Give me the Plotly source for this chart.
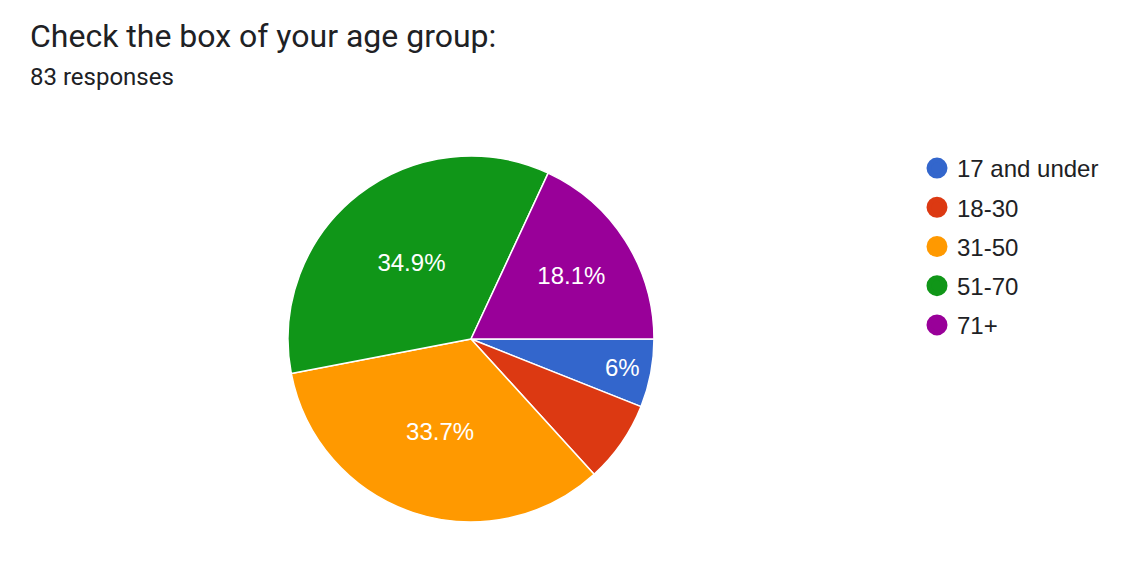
import plotly.graph_objects as go

# survey answers (83 responses)
labels = ["17 and under", "18-30", "31-50", "51-70", "71+"]
counts = [5, 6, 28, 29, 15]
colors = ["#3366cc", "#dc3912", "#ff9900", "#109618", "#990099"]
show_label = [True, False, True, True, True]

total = sum(counts)
pct_text = []
for c, s in zip(counts, show_label):
    if s:
        pct_text.append("{:g}%".format(round(c / total * 100, 1)))
    else:
        pct_text.append("")

fig = go.Figure()
fig.add_trace(go.Pie(
    labels=labels, values=counts, text=pct_text,
    textinfo="text", textposition="inside", insidetextorientation="horizontal",
    sort=False, direction="clockwise", rotation=90,
    marker=dict(colors=colors, line=dict(color="white", width=1.5)),
    textfont=dict(family="Liberation Sans", size=24, color="white"),
    domain=dict(x=[0.2489, 0.5742], y=[0.1153, 0.7453]),
    showlegend=False, hoverinfo="label+percent",
))

# legend entries with round markers (outline in same colour makes the dot bigger)
for lab, col in zip(labels, colors):
    fig.add_trace(go.Scatter(
        x=[None], y=[None], mode="markers", name=lab, legendgroup=lab,
        marker=dict(color=col, size=16, symbol="circle", line=dict(color=col, width=6)),
    ))

fig.update_layout(
    width=1125, height=581,
    margin=dict(l=0, r=0, t=0, b=0),
    paper_bgcolor="white", plot_bgcolor="white",
    font=dict(family="Roboto", color="#202124"),
    xaxis=dict(visible=False), yaxis=dict(visible=False),
    legend=dict(x=0.808, y=0.7625, xanchor="left", yanchor="top",
                font=dict(family="Liberation Sans", size=24, color="#202124"),
                tracegroupgap=5),
    annotations=[
        dict(text="Check the box of your age group:", x=20 / 1125, y=1 - 7 / 581,
             xref="paper", yref="paper", xanchor="left", yanchor="top", showarrow=False,
             font=dict(family="Roboto", size=32, color="#202124")),
        dict(text="83 responses", x=20 / 1125, y=1 - 53 / 581,
             xref="paper", yref="paper", xanchor="left", yanchor="top", showarrow=False,
             font=dict(family="Roboto", size=24, color="#202124")),
    ],
)

fig.write_html("out.html")
